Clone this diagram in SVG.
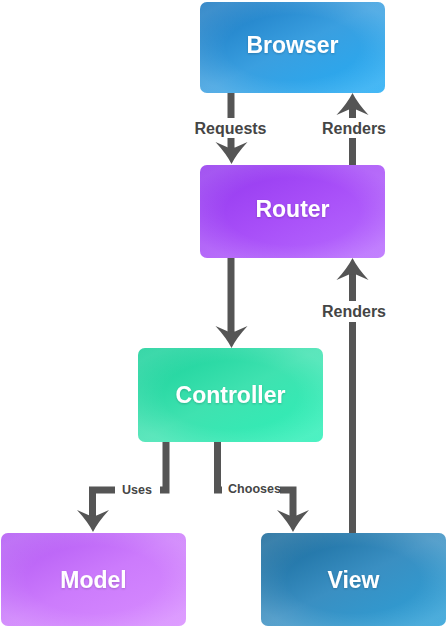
<svg xmlns="http://www.w3.org/2000/svg" xmlns:xlink="http://www.w3.org/1999/xlink" width="447" height="627" viewBox="0 0 447 627">
<style>
.lbl{font-family:"Liberation Sans",Arial,sans-serif;font-weight:bold;fill:#454545}
.big{font-size:16px}
.sm{font-size:12.5px}
.nt{font-family:"Liberation Sans",Arial,sans-serif;font-weight:bold;font-size:23px;fill:#fff;text-anchor:middle}
.ln{fill:none;stroke:#555;stroke-width:7}
.ah{fill:#555}
</style>
<defs>
<path id="ah" d="M0 0 Q-5 -10 -16 -22 L-3.5 -16.5 L3.5 -16.5 L16 -22 Q5 -10 0 0 Z"/>
<linearGradient id="gB" x1="0" y1="0" x2="1" y2="1"><stop offset="0" stop-color="#1776bf"/><stop offset="0.5" stop-color="#3a9fe0"/><stop offset="1" stop-color="#22acf5"/></linearGradient>
<linearGradient id="gR" x1="0" y1="0" x2="1" y2="1"><stop offset="0" stop-color="#9236ee"/><stop offset="0.5" stop-color="#a84ff8"/><stop offset="1" stop-color="#b86cff"/></linearGradient>
<linearGradient id="gC" x1="0" y1="0" x2="1" y2="1"><stop offset="0" stop-color="#15cf98"/><stop offset="0.5" stop-color="#3fe2b0"/><stop offset="1" stop-color="#2cf0b8"/></linearGradient>
<linearGradient id="gM" x1="0" y1="0" x2="1" y2="1"><stop offset="0" stop-color="#b055f3"/><stop offset="0.5" stop-color="#cc7bfc"/><stop offset="1" stop-color="#d88dff"/></linearGradient>
<linearGradient id="gV" x1="0" y1="0" x2="1" y2="1"><stop offset="0" stop-color="#136597"/><stop offset="0.5" stop-color="#3a8fc2"/><stop offset="1" stop-color="#2aa0d8"/></linearGradient>
<radialGradient id="glow" cx="0.5" cy="0.5" r="0.6"><stop offset="0.6" stop-color="#fff" stop-opacity="0"/><stop offset="1" stop-color="#fff" stop-opacity="0.15"/></radialGradient>
<filter id="ts" x="-10%" y="-20%" width="120%" height="140%"><feDropShadow dx="0" dy="1" stdDeviation="0.8" flood-color="#000" flood-opacity="0.2"/></filter>
</defs>

<g id="connectors">
<!-- Browser -> Router (Requests) -->
<path class="ln" d="M231 93 V118"/>
<path class="ln" d="M231 138 V150"/>
<use xlink:href="#ah" class="ah" transform="translate(231.5,164)"/>
<text class="lbl big" x="230.5" y="133.5" text-anchor="middle">Requests</text>
<!-- Router -> Browser (Renders) -->
<path class="ln" d="M352.5 165 V138"/>
<path class="ln" d="M352.5 118 V106"/>
<use xlink:href="#ah" class="ah" transform="translate(352.5,93) rotate(180)"/>
<text class="lbl big" x="354" y="133.5" text-anchor="middle">Renders</text>
<!-- Router -> Controller -->
<path class="ln" d="M231 258 V334"/>
<use xlink:href="#ah" class="ah" transform="translate(231.5,348)"/>
<!-- View -> Router (Renders) -->
<path class="ln" d="M352.5 533 V322"/>
<path class="ln" d="M352.5 301 V271"/>
<use xlink:href="#ah" class="ah" transform="translate(352.5,258) rotate(180)"/>
<text class="lbl big" x="354" y="316.5" text-anchor="middle">Renders</text>
<!-- Controller -> Model (Uses) -->
<path class="ln" d="M166 442 V490 H160"/>
<path class="ln" d="M115 490 H92.5 V518"/>
<use xlink:href="#ah" class="ah" transform="translate(93,532)"/>
<text class="lbl sm" x="137" y="494" text-anchor="middle">Uses</text>
<!-- Controller -> View (Chooses) -->
<path class="ln" d="M217.5 442 V490 H222"/>
<path class="ln" d="M280 490 H293 V518"/>
<use xlink:href="#ah" class="ah" transform="translate(293,532)"/>
<text class="lbl sm" x="254.5" y="493" text-anchor="middle">Chooses</text>
</g>

<g id="browser">
<rect x="200" y="2" width="185" height="91" rx="7" fill="url(#gB)"/>
<rect x="200" y="2" width="185" height="91" rx="7" fill="url(#glow)"/>
<text class="nt" x="292.5" y="53" filter="url(#ts)">Browser</text>
</g>
<g id="router">
<rect x="200" y="165" width="185" height="93" rx="7" fill="url(#gR)"/>
<rect x="200" y="165" width="185" height="93" rx="7" fill="url(#glow)"/>
<text class="nt" x="292.5" y="217" filter="url(#ts)">Router</text>
</g>
<g id="controller">
<rect x="138" y="348" width="185" height="94" rx="7" fill="url(#gC)"/>
<rect x="138" y="348" width="185" height="94" rx="7" fill="url(#glow)"/>
<text class="nt" x="230.5" y="403" filter="url(#ts)">Controller</text>
</g>
<g id="model">
<rect x="1" y="533" width="185" height="93" rx="7" fill="url(#gM)"/>
<rect x="1" y="533" width="185" height="93" rx="7" fill="url(#glow)"/>
<text class="nt" x="93.5" y="588" filter="url(#ts)">Model</text>
</g>
<g id="view">
<rect x="261" y="533" width="185" height="93" rx="7" fill="url(#gV)"/>
<rect x="261" y="533" width="185" height="93" rx="7" fill="url(#glow)"/>
<text class="nt" x="353.5" y="588" filter="url(#ts)">View</text>
</g>
</svg>
